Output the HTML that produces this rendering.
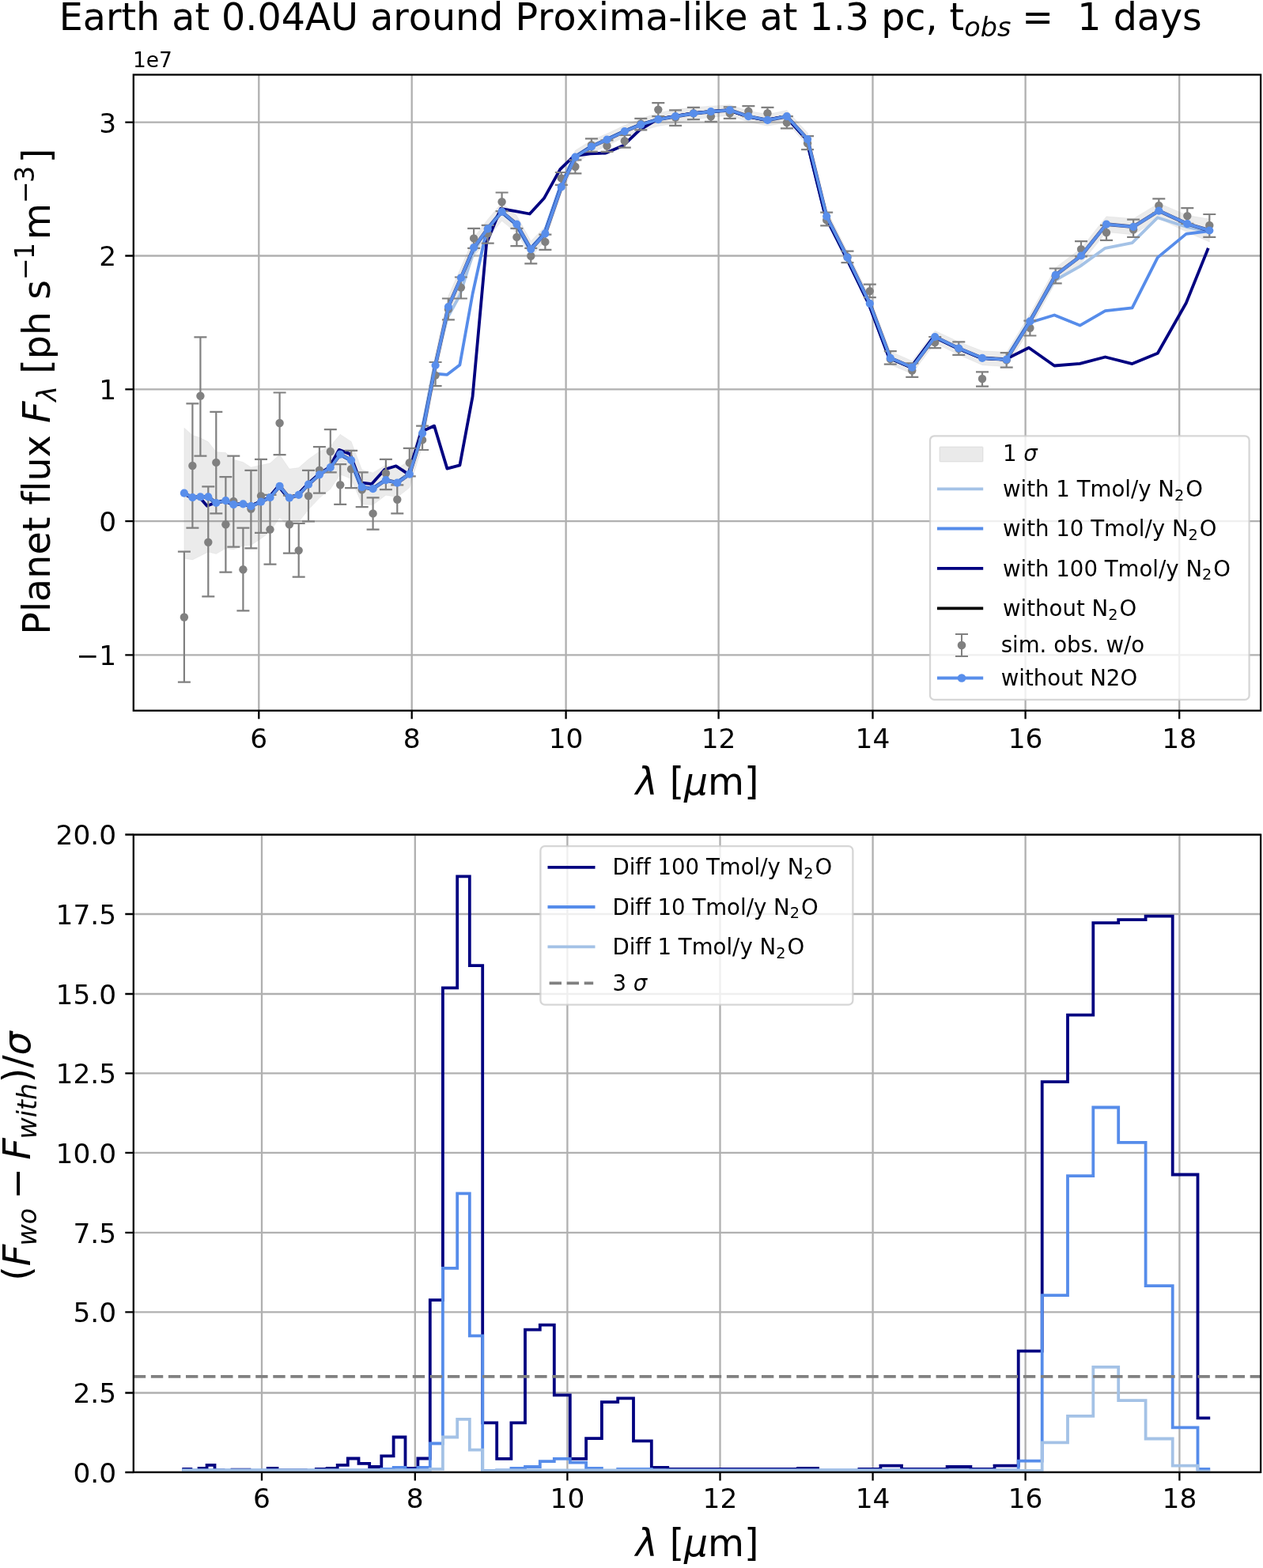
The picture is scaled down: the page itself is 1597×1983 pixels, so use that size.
<!DOCTYPE html>
<html lang="en"><head><meta charset="utf-8"><title>Earth at 0.04AU around Proxima-like</title>
<style>html,body{margin:0;padding:0;background:#fff}svg{display:block}text{font-family:"DejaVu Sans","Liberation Sans",sans-serif;fill:#000;font-variant-ligatures:none;font-kerning:none}.i{font-style:italic}</style></head><body>
<svg width="1597" height="1983" viewBox="0 0 1597 1983" role="img" aria-label="Planet flux and detection significance plots">
<rect width="1597" height="1983" fill="#fff"/>
<clipPath id="c1"><rect x="168.8" y="94.5" width="1425.3" height="804.2"/></clipPath>
<path d="M327.3 94.5V898.7M520.7 94.5V898.7M715.6 94.5V898.7M908.6 94.5V898.7M1103.5 94.5V898.7M1296.6 94.5V898.7M1491.2 94.5V898.7M168.8 154.6H1594.1M168.8 323.5H1594.1M168.8 492.4H1594.1M168.8 659.2H1594.1M168.8 828.3H1594.1" stroke="#b0b0b0" stroke-width="2.3" fill="none"/>
<g clip-path="url(#c1)">
<polygon points="232.9,541.2 243.4,550.4 253.4,553.8 263.3,558.8 273.3,571.4 285.4,572.6 295.3,581.2 307.4,584.5 317.4,590.9 330.0,588.2 341.5,585.8 353.6,575.0 365.9,593.1 377.7,591.6 390.0,580.8 403.9,570.9 417.8,563.9 430.2,549.3 444.1,558.4 457.7,594.2 471.6,597.9 487.9,588.1 502.3,592.4 517.8,582.5 534.1,532.2 550.6,447.3 566.9,374.2 582.9,338.1 599.1,300.5 616.7,277.6 634.6,256.3 653.4,272.6 671.3,305.0 689.4,286.2 709.8,227.9 727.4,190.3 747.9,177.4 767.5,169.0 789.8,158.6 810.3,150.0 832.3,142.7 854.1,138.3 876.9,135.7 898.9,134.2 922.8,132.5 946.4,140.2 970.5,144.6 994.9,139.4 1021.1,167.8 1045.2,265.5 1071.5,317.8 1099.8,375.8 1125.8,444.4 1153.3,456.4 1182.2,418.2 1212.3,432.3 1242.0,443.8 1272.7,445.4 1302.4,397.0 1334.7,338.4 1367.0,314.0 1399.0,273.7 1433.1,276.6 1465.3,256.9 1501.3,272.3 1529.3,277.0 1529.3,305.9 1501.3,293.8 1465.3,276.3 1433.1,296.9 1399.0,293.5 1367.0,333.0 1334.7,357.3 1302.4,415.7 1272.7,463.9 1242.0,461.7 1212.3,448.7 1182.2,433.8 1153.3,472.8 1125.8,461.2 1099.8,391.8 1071.5,333.3 1045.2,281.8 1021.1,184.3 994.9,155.0 970.5,159.3 946.4,154.2 922.8,146.2 898.9,148.2 876.9,151.4 854.1,156.1 832.3,159.6 810.3,165.4 789.8,173.6 767.5,184.2 747.9,193.6 727.4,206.9 709.8,244.9 689.4,304.6 671.3,325.2 653.4,294.6 634.6,279.4 616.7,301.1 599.1,325.4 582.9,364.5 566.9,401.8 550.6,476.7 534.1,563.8 517.8,616.8 502.3,628.8 487.9,626.2 471.6,638.5 457.7,637.9 444.1,605.6 430.2,600.0 417.8,618.4 403.9,629.8 390.0,644.6 377.7,659.9 365.9,666.3 353.6,654.6 341.5,672.6 330.0,681.2 317.4,689.5 307.4,690.2 295.3,695.0 285.4,693.6 273.3,700.6 263.3,698.0 253.4,703.0 243.4,707.9 232.9,706.2" fill="#808080" fill-opacity="0.155" stroke="#808080" stroke-opacity="0.08" stroke-width="1"/>
<polyline points="231.4,623.7 241.9,629.2 251.9,628.4 261.8,628.4 271.8,636.0 283.9,633.1 293.8,638.1 305.9,637.3 315.9,640.2 328.5,634.7 340.0,629.2 352.1,614.8 364.4,629.7 376.2,625.8 388.5,612.7 402.4,600.3 416.3,591.1 428.7,574.6 442.6,582.0 456.2,616.1 470.1,618.2 486.4,607.1 500.8,610.6 516.3,599.7 532.6,548.0 549.1,463.5 565.4,402.7 581.4,373.7 597.6,321.7 615.2,289.4 633.1,267.9 651.9,283.6 669.8,315.1 687.9,295.4 708.3,236.4 725.9,198.6 746.4,185.5 766.0,176.6 788.3,166.1 808.8,157.7 830.8,151.1 852.6,147.2 875.4,143.5 897.4,141.2 921.3,139.3 944.9,147.2 969.0,151.9 993.4,147.2 1019.6,176.1 1043.7,273.6 1070.0,325.6 1098.3,383.8 1124.3,452.8 1151.8,464.6 1180.7,426.0 1210.8,440.5 1240.5,452.8 1271.2,454.6 1300.9,406.4 1333.2,355.0 1365.5,336.9 1397.5,313.8 1431.6,307.2 1463.8,275.2 1499.8,286.8 1527.8,292.8" fill="none" stroke="#a4c2e6" stroke-width="3.8" stroke-linejoin="round"/>
<polyline points="231.4,623.7 241.9,629.2 251.9,628.4 261.8,628.4 271.8,636.0 283.9,633.1 293.8,638.1 305.9,637.3 315.9,640.2 328.5,634.7 340.0,629.2 352.1,614.8 364.4,629.7 376.2,625.8 388.5,612.7 402.4,600.3 416.3,591.1 428.7,574.6 442.6,582.0 456.2,616.1 470.1,618.2 486.4,607.1 500.8,610.6 516.3,599.7 532.6,548.0 549.1,472.5 565.4,473.8 581.4,461.4 597.6,371.5 615.2,291.5 633.1,267.9 651.9,283.6 669.8,315.1 687.9,295.4 708.3,236.4 725.9,198.6 746.4,185.5 766.0,176.6 788.3,166.1 808.8,157.7 830.8,151.1 852.6,147.2 875.4,143.5 897.4,141.2 921.3,139.3 944.9,147.2 969.0,151.9 993.4,147.2 1019.6,176.1 1043.7,273.6 1070.0,325.6 1098.3,383.8 1124.3,452.8 1151.8,464.6 1180.7,426.0 1210.8,440.5 1240.5,452.8 1271.2,454.6 1300.9,408.2 1333.2,398.5 1365.5,411.6 1397.5,393.2 1431.6,389.3 1463.8,325.6 1499.8,295.9 1527.8,292.3" fill="none" stroke="#568cea" stroke-width="3.8" stroke-linejoin="round"/>
<polyline points="231.4,623.7 241.9,629.2 251.9,628.4 261.8,639.7 271.8,636.0 283.9,633.1 293.8,638.1 305.9,637.3 315.9,640.2 328.5,634.7 340.0,629.2 352.1,614.8 364.4,629.7 376.2,625.8 388.5,612.7 402.4,600.3 416.3,591.1 428.7,568.9 442.6,574.1 456.2,610.3 470.1,612.1 486.4,593.8 500.8,589.3 516.3,599.7 532.6,545.9 549.1,538.6 565.4,592.6 581.4,588.4 597.6,501.3 615.2,307.2 633.1,263.9 651.9,267.1 669.8,270.5 687.9,250.8 708.3,214.1 725.9,197.0 746.4,194.4 766.0,193.6 788.3,183.9 808.8,164.3 830.8,151.1 852.6,147.2 875.4,143.5 897.4,141.2 921.3,139.3 944.9,147.2 969.0,151.9 993.4,147.2 1019.6,176.1 1043.7,273.6 1070.0,325.6 1098.3,383.8 1124.3,452.8 1151.8,464.6 1180.7,426.0 1210.8,440.5 1240.5,452.8 1271.2,454.6 1300.9,439.7 1333.2,462.5 1365.5,459.9 1397.5,451.5 1431.6,460.1 1463.8,446.8 1499.8,383.3 1527.8,313.8" fill="none" stroke="#000080" stroke-width="3.8" stroke-linejoin="round"/>
<polyline points="232.9,623.7 243.4,629.2 253.4,628.4 263.3,628.4 273.3,636.0 285.4,633.1 295.3,638.1 307.4,637.3 317.4,640.2 330.0,634.7 341.5,629.2 353.6,614.8 365.9,629.7 377.7,625.8 390.0,612.7 403.9,600.3 417.8,591.1 430.2,574.6 444.1,582.0 457.7,616.1 471.6,618.2 487.9,607.1 502.3,610.6 517.8,599.7 534.1,548.0 550.6,462.0 566.9,388.0 582.9,351.3 599.1,313.0 616.7,289.4 634.6,267.9 653.4,283.6 671.3,315.1 689.4,295.4 709.8,236.4 727.4,198.6 747.9,185.5 767.5,176.6 789.8,166.1 810.3,157.7 832.3,151.1 854.1,147.2 876.9,143.5 898.9,141.2 922.8,139.3 946.4,147.2 970.5,151.9 994.9,147.2 1021.1,176.1 1045.2,273.6 1071.5,325.6 1099.8,383.8 1125.8,452.8 1153.3,464.6 1182.2,426.0 1212.3,440.5 1242.0,452.8 1272.7,454.6 1302.4,406.4 1334.7,347.9 1367.0,323.5 1399.0,283.6 1433.1,286.8 1465.3,266.6 1501.3,283.1 1529.3,291.5" fill="none" stroke="#00003a" stroke-opacity="0.7" stroke-width="4.6" stroke-linejoin="round"/>
<path d="M232.9 697.6V862.6M224.9 697.6h16M224.9 862.6h16M243.4 510.4V667.7M235.4 510.4h16M235.4 667.7h16M253.4 426.4V576.7M245.4 426.4h16M245.4 576.7h16M263.3 615.3V754.3M255.3 615.3h16M255.3 754.3h16M273.3 520.9V649.4M265.3 520.9h16M265.3 649.4h16M285.4 603.2V723.6M277.4 603.2h16M277.4 723.6h16M295.3 576.7V691.6M287.3 576.7h16M287.3 691.6h16M307.4 667.7V772.4M299.4 667.7h16M299.4 772.4h16M317.4 594.8V693.4M309.4 594.8h16M309.4 693.4h16M330.0 580.9V673.8M322.0 580.9h16M322.0 673.8h16M341.5 625.8V713.6M333.5 625.8h16M333.5 713.6h16M353.6 496.5V575.1M345.6 496.5h16M345.6 575.1h16M365.9 626.6V699.7M357.9 626.6h16M357.9 699.7h16M377.7 662.0V729.6M369.7 662.0h16M369.7 729.6h16M390.0 594.8V659.3M382.0 594.8h16M382.0 659.3h16M403.9 565.2V623.7M395.9 565.2h16M395.9 623.7h16M417.8 543.1V597.4M409.8 543.1h16M409.8 597.4h16M430.2 587.2V637.8M422.2 587.2h16M422.2 637.8h16M444.1 569.9V617.1M436.1 569.9h16M436.1 617.1h16M457.7 597.4V641.2M449.7 597.4h16M449.7 641.2h16M471.6 629.4V669.6M463.6 629.4h16M463.6 669.6h16M487.9 580.9V619.2M479.9 580.9h16M479.9 619.2h16M502.3 613.4V649.4M494.3 613.4h16M494.3 649.4h16M517.8 566.9V602.3M509.8 566.9h16M509.8 602.3h16M534.1 538.6V569.0M526.1 538.6h16M526.1 569.0h16M550.6 458.0V488.2M542.6 458.0h16M542.6 488.2h16M566.9 377.5V404.3M558.9 377.5h16M558.9 404.3h16M582.9 350.5V377.5M574.9 350.5h16M574.9 377.5h16M599.1 288.9V313.8M591.1 288.9h16M591.1 313.8h16M616.7 284.9V307.7M608.7 284.9h16M608.7 307.7h16M634.6 243.5V267.1M626.6 243.5h16M626.6 267.1h16M653.4 288.9V311.1M645.4 288.9h16M645.4 311.1h16M671.3 313.8V333.4M663.3 313.8h16M663.3 333.4h16M689.4 296.7V315.9M681.4 296.7h16M681.4 315.9h16M709.8 218.0V233.8M701.8 218.0h16M701.8 233.8h16M727.4 202.3V219.3M719.4 202.3h16M719.4 219.3h16M747.9 175.3V191.8M739.9 175.3h16M739.9 191.8h16M767.5 177.4V191.8M759.5 177.4h16M759.5 191.8h16M789.8 170.8V186.6M781.8 170.8h16M781.8 186.6h16M810.3 149.8V164.3M802.3 149.8h16M802.3 164.3h16M832.3 130.2V147.2M824.3 130.2h16M824.3 147.2h16M854.1 139.3V158.8M846.1 139.3h16M846.1 158.8h16M876.9 135.9V151.1M868.9 135.9h16M868.9 151.1h16M898.9 140.7V153.8M890.9 140.7h16M890.9 153.8h16M922.8 135.4V149.8M914.8 135.4h16M914.8 149.8h16M946.4 134.1V147.2M938.4 134.1h16M938.4 147.2h16M970.5 135.9V151.1M962.5 135.9h16M962.5 151.1h16M994.9 147.2V162.4M986.9 147.2h16M986.9 162.4h16M1021.1 172.1V189.2M1013.1 172.1h16M1013.1 189.2h16M1045.2 268.7V285.4M1037.2 268.7h16M1037.2 285.4h16M1071.5 317.7V332.1M1063.5 317.7h16M1063.5 332.1h16M1099.8 359.7V376.2M1091.8 359.7h16M1091.8 376.2h16M1125.8 444.1V460.7M1117.8 444.1h16M1117.8 460.7h16M1153.3 459.3V476.9M1145.3 459.3h16M1145.3 476.9h16M1182.2 426.0V440.2M1174.2 426.0h16M1174.2 440.2h16M1212.3 432.3V448.9M1204.3 432.3h16M1204.3 448.9h16M1242.0 470.4V488.7M1234.0 470.4h16M1234.0 488.7h16M1272.7 446.2V464.6M1264.7 446.2h16M1264.7 464.6h16M1302.4 405.6V424.5M1294.4 405.6h16M1294.4 424.5h16M1334.7 339.5V358.4M1326.7 339.5h16M1326.7 358.4h16M1367.0 305.1V324.3M1359.0 305.1h16M1359.0 324.3h16M1399.0 284.9V303.8M1391.0 284.9h16M1391.0 303.8h16M1433.1 277.6V299.9M1425.1 277.6h16M1425.1 299.9h16M1465.3 251.3V269.2M1457.3 251.3h16M1457.3 269.2h16M1501.3 263.1V282.8M1493.3 263.1h16M1493.3 282.8h16M1529.3 271.0V299.9M1521.3 271.0h16M1521.3 299.9h16" stroke="#808080" stroke-width="2.2" fill="none"/>
<g fill="#808080"><circle cx="232.9" cy="780.5" r="5.2"/><circle cx="243.4" cy="589.0" r="5.2"/><circle cx="253.4" cy="500.7" r="5.2"/><circle cx="263.3" cy="685.8" r="5.2"/><circle cx="273.3" cy="584.9" r="5.2"/><circle cx="285.4" cy="663.3" r="5.2"/><circle cx="295.3" cy="633.9" r="5.2"/><circle cx="307.4" cy="720.2" r="5.2"/><circle cx="317.4" cy="643.6" r="5.2"/><circle cx="330.0" cy="627.1" r="5.2"/><circle cx="341.5" cy="669.6" r="5.2"/><circle cx="353.6" cy="535.0" r="5.2"/><circle cx="365.9" cy="663.3" r="5.2"/><circle cx="377.7" cy="696.1" r="5.2"/><circle cx="390.0" cy="627.1" r="5.2"/><circle cx="403.9" cy="594.6" r="5.2"/><circle cx="417.8" cy="571.0" r="5.2"/><circle cx="430.2" cy="613.2" r="5.2"/><circle cx="444.1" cy="593.2" r="5.2"/><circle cx="457.7" cy="619.2" r="5.2"/><circle cx="471.6" cy="649.4" r="5.2"/><circle cx="487.9" cy="598.5" r="5.2"/><circle cx="502.3" cy="631.8" r="5.2"/><circle cx="517.8" cy="585.2" r="5.2"/><circle cx="534.1" cy="556.4" r="5.2"/><circle cx="550.6" cy="474.6" r="5.2"/><circle cx="566.9" cy="391.1" r="5.2"/><circle cx="582.9" cy="363.6" r="5.2"/><circle cx="599.1" cy="301.4" r="5.2"/><circle cx="616.7" cy="295.4" r="5.2"/><circle cx="634.6" cy="255.3" r="5.2"/><circle cx="653.4" cy="299.9" r="5.2"/><circle cx="671.3" cy="323.7" r="5.2"/><circle cx="689.4" cy="305.9" r="5.2"/><circle cx="709.8" cy="225.4" r="5.2"/><circle cx="727.4" cy="210.7" r="5.2"/><circle cx="747.9" cy="183.4" r="5.2"/><circle cx="767.5" cy="184.5" r="5.2"/><circle cx="789.8" cy="178.2" r="5.2"/><circle cx="810.3" cy="156.4" r="5.2"/><circle cx="832.3" cy="138.6" r="5.2"/><circle cx="854.1" cy="148.5" r="5.2"/><circle cx="876.9" cy="143.3" r="5.2"/><circle cx="898.9" cy="147.2" r="5.2"/><circle cx="922.8" cy="143.3" r="5.2"/><circle cx="946.4" cy="140.7" r="5.2"/><circle cx="970.5" cy="143.3" r="5.2"/><circle cx="994.9" cy="155.1" r="5.2"/><circle cx="1021.1" cy="181.3" r="5.2"/><circle cx="1045.2" cy="278.4" r="5.2"/><circle cx="1071.5" cy="325.0" r="5.2"/><circle cx="1099.8" cy="368.1" r="5.2"/><circle cx="1125.8" cy="454.1" r="5.2"/><circle cx="1153.3" cy="468.5" r="5.2"/><circle cx="1182.2" cy="433.1" r="5.2"/><circle cx="1212.3" cy="441.0" r="5.2"/><circle cx="1242.0" cy="479.0" r="5.2"/><circle cx="1272.7" cy="455.4" r="5.2"/><circle cx="1302.4" cy="414.8" r="5.2"/><circle cx="1334.7" cy="349.2" r="5.2"/><circle cx="1367.0" cy="315.1" r="5.2"/><circle cx="1399.0" cy="294.1" r="5.2"/><circle cx="1433.1" cy="290.2" r="5.2"/><circle cx="1465.3" cy="260.0" r="5.2"/><circle cx="1501.3" cy="273.1" r="5.2"/><circle cx="1529.3" cy="284.9" r="5.2"/></g>
<polyline points="232.9,623.7 243.4,629.2 253.4,628.4 263.3,628.4 273.3,636.0 285.4,633.1 295.3,638.1 307.4,637.3 317.4,640.2 330.0,634.7 341.5,629.2 353.6,614.8 365.9,629.7 377.7,625.8 390.0,612.7 403.9,600.3 417.8,591.1 430.2,574.6 444.1,582.0 457.7,616.1 471.6,618.2 487.9,607.1 502.3,610.6 517.8,599.7 534.1,548.0 550.6,462.0 566.9,388.0 582.9,351.3 599.1,313.0 616.7,289.4 634.6,267.9 653.4,283.6 671.3,315.1 689.4,295.4 709.8,236.4 727.4,198.6 747.9,185.5 767.5,176.6 789.8,166.1 810.3,157.7 832.3,151.1 854.1,147.2 876.9,143.5 898.9,141.2 922.8,139.3 946.4,147.2 970.5,151.9 994.9,147.2 1021.1,176.1 1045.2,273.6 1071.5,325.6 1099.8,383.8 1125.8,452.8 1153.3,464.6 1182.2,426.0 1212.3,440.5 1242.0,452.8 1272.7,454.6 1302.4,406.4 1334.7,347.9 1367.0,323.5 1399.0,283.6 1433.1,286.8 1465.3,266.6 1501.3,283.1 1529.3,291.5" fill="none" stroke="#588eeb" stroke-width="3.8" stroke-linejoin="round"/>
<g fill="#588eeb"><circle cx="232.9" cy="623.7" r="5.1"/><circle cx="243.4" cy="629.2" r="5.1"/><circle cx="253.4" cy="628.4" r="5.1"/><circle cx="263.3" cy="628.4" r="5.1"/><circle cx="273.3" cy="636.0" r="5.1"/><circle cx="285.4" cy="633.1" r="5.1"/><circle cx="295.3" cy="638.1" r="5.1"/><circle cx="307.4" cy="637.3" r="5.1"/><circle cx="317.4" cy="640.2" r="5.1"/><circle cx="330.0" cy="634.7" r="5.1"/><circle cx="341.5" cy="629.2" r="5.1"/><circle cx="353.6" cy="614.8" r="5.1"/><circle cx="365.9" cy="629.7" r="5.1"/><circle cx="377.7" cy="625.8" r="5.1"/><circle cx="390.0" cy="612.7" r="5.1"/><circle cx="403.9" cy="600.3" r="5.1"/><circle cx="417.8" cy="591.1" r="5.1"/><circle cx="430.2" cy="574.6" r="5.1"/><circle cx="444.1" cy="582.0" r="5.1"/><circle cx="457.7" cy="616.1" r="5.1"/><circle cx="471.6" cy="618.2" r="5.1"/><circle cx="487.9" cy="607.1" r="5.1"/><circle cx="502.3" cy="610.6" r="5.1"/><circle cx="517.8" cy="599.7" r="5.1"/><circle cx="534.1" cy="548.0" r="5.1"/><circle cx="550.6" cy="462.0" r="5.1"/><circle cx="566.9" cy="388.0" r="5.1"/><circle cx="582.9" cy="351.3" r="5.1"/><circle cx="599.1" cy="313.0" r="5.1"/><circle cx="616.7" cy="289.4" r="5.1"/><circle cx="634.6" cy="267.9" r="5.1"/><circle cx="653.4" cy="283.6" r="5.1"/><circle cx="671.3" cy="315.1" r="5.1"/><circle cx="689.4" cy="295.4" r="5.1"/><circle cx="709.8" cy="236.4" r="5.1"/><circle cx="727.4" cy="198.6" r="5.1"/><circle cx="747.9" cy="185.5" r="5.1"/><circle cx="767.5" cy="176.6" r="5.1"/><circle cx="789.8" cy="166.1" r="5.1"/><circle cx="810.3" cy="157.7" r="5.1"/><circle cx="832.3" cy="151.1" r="5.1"/><circle cx="854.1" cy="147.2" r="5.1"/><circle cx="876.9" cy="143.5" r="5.1"/><circle cx="898.9" cy="141.2" r="5.1"/><circle cx="922.8" cy="139.3" r="5.1"/><circle cx="946.4" cy="147.2" r="5.1"/><circle cx="970.5" cy="151.9" r="5.1"/><circle cx="994.9" cy="147.2" r="5.1"/><circle cx="1021.1" cy="176.1" r="5.1"/><circle cx="1045.2" cy="273.6" r="5.1"/><circle cx="1071.5" cy="325.6" r="5.1"/><circle cx="1099.8" cy="383.8" r="5.1"/><circle cx="1125.8" cy="452.8" r="5.1"/><circle cx="1153.3" cy="464.6" r="5.1"/><circle cx="1182.2" cy="426.0" r="5.1"/><circle cx="1212.3" cy="440.5" r="5.1"/><circle cx="1242.0" cy="452.8" r="5.1"/><circle cx="1272.7" cy="454.6" r="5.1"/><circle cx="1302.4" cy="406.4" r="5.1"/><circle cx="1334.7" cy="347.9" r="5.1"/><circle cx="1367.0" cy="323.5" r="5.1"/><circle cx="1399.0" cy="283.6" r="5.1"/><circle cx="1433.1" cy="286.8" r="5.1"/><circle cx="1465.3" cy="266.6" r="5.1"/><circle cx="1501.3" cy="283.1" r="5.1"/><circle cx="1529.3" cy="291.5" r="5.1"/></g>
</g>
<path d="M327.3 898.7v10.5M520.7 898.7v10.5M715.6 898.7v10.5M908.6 898.7v10.5M1103.5 898.7v10.5M1296.6 898.7v10.5M1491.2 898.7v10.5M168.8 154.6h-10.5M168.8 323.5h-10.5M168.8 492.4h-10.5M168.8 659.2h-10.5M168.8 828.3h-10.5" stroke="#000" stroke-width="2.3" fill="none"/>
<rect x="168.8" y="94.5" width="1425.3" height="804.2" fill="none" stroke="#000" stroke-width="2.3"/>
<text x="327.3" y="946.3" font-size="34.4" text-anchor="middle">6</text>
<text x="520.7" y="946.3" font-size="34.4" text-anchor="middle">8</text>
<text x="715.6" y="946.3" font-size="34.4" text-anchor="middle">10</text>
<text x="908.6" y="946.3" font-size="34.4" text-anchor="middle">12</text>
<text x="1103.5" y="946.3" font-size="34.4" text-anchor="middle">14</text>
<text x="1296.6" y="946.3" font-size="34.4" text-anchor="middle">16</text>
<text x="1491.2" y="946.3" font-size="34.4" text-anchor="middle">18</text>
<text x="147.1" y="167.5" font-size="34.4" text-anchor="end">3</text>
<text x="147.1" y="336.4" font-size="34.4" text-anchor="end">2</text>
<text x="147.1" y="505.3" font-size="34.4" text-anchor="end">1</text>
<text x="147.1" y="672.1" font-size="34.4" text-anchor="end">0</text>
<text x="147.1" y="841.2" font-size="34.4" text-anchor="end">−1</text>
<text x="168" y="85" font-size="26.4">1e7</text>
<text x="797.3" y="37.8" font-size="47.5" text-anchor="middle" xml:space="preserve">Earth at 0.04AU around Proxima-like at 1.3 pc, t<tspan class="i" font-size="33.5" dy="8">obs</tspan><tspan dy="-8" dx="-1.2"> =  1 days</tspan></text>
<text x="881.6" y="1004.8" font-size="47.2" text-anchor="middle"><tspan class="i">λ</tspan> [<tspan class="i">μ</tspan>m]</text>
<text transform="translate(63.3,802.8) rotate(-90)" font-size="47.6">Planet flux <tspan class="i">F</tspan><tspan class="i" font-size="33.3" dy="8">λ</tspan><tspan dy="-8"> [ph s</tspan><tspan font-size="33.3" dy="-20.5">−</tspan><tspan font-size="33.3" dx="-2">1</tspan><tspan dy="20.5" dx="3.5">m</tspan><tspan font-size="33.3" dy="-20.5">−</tspan><tspan font-size="33.3" dx="-2">3</tspan><tspan dy="20.5" dx="3.5">]</tspan></text>
<rect x="1176" y="551.3" width="403.6" height="333.6" rx="5.5" fill="#fff" fill-opacity="0.8" stroke="#ccc" stroke-opacity="0.8" stroke-width="2.3"/>
<rect x="1188.0" y="564.9" width="55" height="19" rx="1.5" fill="#808080" fill-opacity="0.17" stroke="#808080" stroke-opacity="0.12" stroke-width="1.5"/>
<path d="M1185.0 618.3H1243.2" stroke="#a4c2e6" stroke-width="3.8"/>
<path d="M1185.0 668.5H1243.2" stroke="#568cea" stroke-width="3.8"/>
<path d="M1185.0 718.8H1243.2" stroke="#000080" stroke-width="3.8"/>
<path d="M1185.0 769.3H1243.2" stroke="#000" stroke-width="3.8"/>
<path d="M1216.0 802.0V830.0M1208.0 802.0h16M1208.0 830.0h16" stroke="#808080" stroke-width="2" fill="none"/>
<circle cx="1216.0" cy="816.0" r="5.3" fill="#808080"/>
<path d="M1185.0 857.5H1243.2" stroke="#588eeb" stroke-width="3.8"/>
<circle cx="1216.0" cy="857.5" r="5.3" fill="#588eeb"/>
<text x="1268.0" y="583.0" font-size="27.6">1 <tspan class="i">σ</tspan></text>
<text x="1268.0" y="628.0" font-size="27.6">with 1 Tmol/y N<tspan font-size="19.3" dy="4.7">2</tspan><tspan dy="-4.7" dx="2">O</tspan></text>
<text x="1268.0" y="678.2" font-size="27.6">with 10 Tmol/y N<tspan font-size="19.3" dy="4.7">2</tspan><tspan dy="-4.7" dx="2">O</tspan></text>
<text x="1268.0" y="728.5" font-size="27.6">with 100 Tmol/y N<tspan font-size="19.3" dy="4.7">2</tspan><tspan dy="-4.7" dx="2">O</tspan></text>
<text x="1268.0" y="779.0" font-size="27.6">without N<tspan font-size="19.3" dy="4.7">2</tspan><tspan dy="-4.7" dx="2">O</tspan></text>
<text x="1265.7" y="825.2" font-size="27.6">sim. obs. w/o</text>
<text x="1265.7" y="867.2" font-size="27.6">without N2O</text>
<clipPath id="c2"><rect x="168.8" y="1055.6" width="1425.3" height="806.3"/></clipPath>
<path d="M331.0 1055.6V1861.9M524.8 1055.6V1861.9M717.4 1055.6V1861.9M910.5 1055.6V1861.9M1103.6 1055.6V1861.9M1296.6 1055.6V1861.9M1491.4 1055.6V1861.9M168.8 1055.5H1594.1M168.8 1156.0H1594.1M168.8 1257.0H1594.1M168.8 1357.4H1594.1M168.8 1457.9H1594.1M168.8 1558.8H1594.1M168.8 1659.4H1594.1M168.8 1761.5H1594.1M168.8 1862.0H1594.1" stroke="#b0b0b0" stroke-width="2.3" fill="none"/>
<g clip-path="url(#c2)" fill="none" stroke-width="3.8" stroke-linejoin="miter">
<path d="M230.3 1857.8 L241.4 1857.8 L241.4 1859.8 L251.6 1859.8 L251.6 1857.0 L261.6 1857.0 L261.6 1852.9 L271.5 1852.9 L271.5 1859.4 L282.5 1859.4 L282.5 1860.6 L293.5 1860.6 L293.5 1858.6 L304.5 1858.6 L304.5 1858.6 L315.4 1858.6 L315.4 1860.6 L326.7 1860.6 L326.7 1859.8 L338.7 1859.8 L338.7 1857.0 L350.5 1857.0 L350.5 1859.4 L362.6 1859.4 L362.6 1859.4 L374.7 1859.4 L374.7 1859.4 L386.7 1859.4 L386.7 1859.8 L399.8 1859.8 L399.8 1857.8 L413.6 1857.8 L413.6 1857.0 L426.7 1857.0 L426.7 1852.9 L439.8 1852.9 L439.8 1844.5 L453.5 1844.5 L453.5 1850.9 L467.2 1850.9 L467.2 1855.0 L482.3 1855.0 L482.3 1841.3 L497.6 1841.3 L497.6 1817.5 L512.5 1817.5 L512.5 1857.0 L528.4 1857.0 L528.4 1844.5 L543.8 1844.5 L543.8 1644.2 L559.9 1644.2 L559.9 1249.4 L578.2 1249.4 L578.2 1108.4 L593.8 1108.4 L593.8 1221.2 L610.2 1221.2 L610.2 1799.4 L628.2 1799.4 L628.2 1844.9 L646.4 1844.9 L646.4 1799.4 L664.0 1799.4 L664.0 1681.7 L682.8 1681.7 L682.8 1675.7 L700.8 1675.7 L700.8 1764.3 L720.8 1764.3 L720.8 1844.9 L741.1 1844.9 L741.1 1819.1 L760.9 1819.1 L760.9 1773.2 L781.2 1773.2 L781.2 1768.3 L801.0 1768.3 L801.0 1822.3 L823.8 1822.3 L823.8 1855.8 L844.3 1855.8 L844.3 1857.8 L866.9 1857.8 L866.9 1857.8 L889.2 1857.8 L889.2 1857.8 L912.1 1857.8 L912.1 1857.8 L935.7 1857.8 L935.7 1857.8 L959.5 1857.8 L959.5 1857.8 L983.7 1857.8 L983.7 1857.8 L1009.0 1857.8 L1009.0 1857.0 L1034.1 1857.0 L1034.1 1860.6 L1059.2 1860.6 L1059.2 1860.6 L1086.4 1860.6 L1086.4 1857.8 L1113.4 1857.8 L1113.4 1853.7 L1140.1 1853.7 L1140.1 1857.8 L1168.2 1857.8 L1168.2 1857.8 L1197.6 1857.8 L1197.6 1855.0 L1227.4 1855.0 L1227.4 1857.8 L1257.5 1857.8 L1257.5 1853.7 L1287.7 1853.7 L1287.7 1708.7 L1317.7 1708.7 L1317.7 1368.2 L1350.0 1368.2 L1350.0 1283.6 L1382.3 1283.6 L1382.3 1167.2 L1414.2 1167.2 L1414.2 1163.2 L1448.6 1163.2 L1448.6 1158.7 L1482.7 1158.7 L1482.7 1485.5 L1514.5 1485.5 L1514.5 1793.3 L1530.2 1793.3" stroke="#000080"/>
<path d="M230.3 1859.4 L241.4 1859.4 L241.4 1859.4 L251.6 1859.4 L251.6 1859.4 L261.6 1859.4 L261.6 1859.4 L271.5 1859.4 L271.5 1859.4 L282.5 1859.4 L282.5 1859.4 L293.5 1859.4 L293.5 1859.4 L304.5 1859.4 L304.5 1859.4 L315.4 1859.4 L315.4 1859.4 L326.7 1859.4 L326.7 1859.4 L338.7 1859.4 L338.7 1859.4 L350.5 1859.4 L350.5 1859.4 L362.6 1859.4 L362.6 1859.4 L374.7 1859.4 L374.7 1859.4 L386.7 1859.4 L386.7 1859.4 L399.8 1859.4 L399.8 1859.4 L413.6 1859.4 L413.6 1859.4 L426.7 1859.4 L426.7 1859.4 L439.8 1859.4 L439.8 1859.4 L453.5 1859.4 L453.5 1859.4 L467.2 1859.4 L467.2 1859.4 L482.3 1859.4 L482.3 1857.8 L497.6 1857.8 L497.6 1855.8 L512.5 1855.8 L512.5 1858.6 L528.4 1858.6 L528.4 1855.8 L543.8 1855.8 L543.8 1825.5 L559.9 1825.5 L559.9 1603.9 L578.2 1603.9 L578.2 1509.3 L593.8 1509.3 L593.8 1689.4 L610.2 1689.4 L610.2 1859.8 L628.2 1859.8 L628.2 1859.4 L646.4 1859.4 L646.4 1857.0 L664.0 1857.0 L664.0 1855.0 L682.8 1855.0 L682.8 1848.1 L700.8 1848.1 L700.8 1844.9 L720.8 1844.9 L720.8 1849.7 L741.1 1849.7 L741.1 1857.0 L760.9 1857.0 L760.9 1859.8 L781.2 1859.8 L781.2 1857.8 L801.0 1857.8 L801.0 1857.8 L823.8 1857.8 L823.8 1859.4 L844.3 1859.4 L844.3 1859.4 L866.9 1859.4 L866.9 1859.4 L889.2 1859.4 L889.2 1859.4 L912.1 1859.4 L912.1 1859.4 L935.7 1859.4 L935.7 1859.4 L959.5 1859.4 L959.5 1859.4 L983.7 1859.4 L983.7 1859.4 L1009.0 1859.4 L1009.0 1859.4 L1034.1 1859.4 L1034.1 1859.4 L1059.2 1859.4 L1059.2 1859.4 L1086.4 1859.4 L1086.4 1859.4 L1113.4 1859.4 L1113.4 1859.4 L1140.1 1859.4 L1140.1 1859.4 L1168.2 1859.4 L1168.2 1859.4 L1197.6 1859.4 L1197.6 1859.4 L1227.4 1859.4 L1227.4 1859.4 L1257.5 1859.4 L1257.5 1859.4 L1287.7 1859.4 L1287.7 1847.7 L1317.7 1847.7 L1317.7 1638.2 L1350.0 1638.2 L1350.0 1487.1 L1382.3 1487.1 L1382.3 1400.5 L1414.2 1400.5 L1414.2 1444.8 L1448.6 1444.8 L1448.6 1626.1 L1482.7 1626.1 L1482.7 1805.4 L1514.5 1805.4 L1514.5 1857.8 L1530.2 1857.8" stroke="#568cea"/>
<path d="M230.3 1859.4 L241.4 1859.4 L241.4 1859.4 L251.6 1859.4 L251.6 1859.4 L261.6 1859.4 L261.6 1859.4 L271.5 1859.4 L271.5 1859.4 L282.5 1859.4 L282.5 1859.4 L293.5 1859.4 L293.5 1859.4 L304.5 1859.4 L304.5 1859.4 L315.4 1859.4 L315.4 1859.4 L326.7 1859.4 L326.7 1859.4 L338.7 1859.4 L338.7 1859.4 L350.5 1859.4 L350.5 1859.4 L362.6 1859.4 L362.6 1859.4 L374.7 1859.4 L374.7 1859.4 L386.7 1859.4 L386.7 1859.4 L399.8 1859.4 L399.8 1859.4 L413.6 1859.4 L413.6 1859.4 L426.7 1859.4 L426.7 1859.4 L439.8 1859.4 L439.8 1859.4 L453.5 1859.4 L453.5 1859.4 L467.2 1859.4 L467.2 1859.4 L482.3 1859.4 L482.3 1859.4 L497.6 1859.4 L497.6 1859.4 L512.5 1859.4 L512.5 1859.4 L528.4 1859.4 L528.4 1859.4 L543.8 1859.4 L543.8 1857.8 L559.9 1857.8 L559.9 1817.5 L578.2 1817.5 L578.2 1794.9 L593.8 1794.9 L593.8 1833.6 L610.2 1833.6 L610.2 1860.2 L628.2 1860.2 L628.2 1859.4 L646.4 1859.4 L646.4 1859.4 L664.0 1859.4 L664.0 1859.4 L682.8 1859.4 L682.8 1859.4 L700.8 1859.4 L700.8 1859.4 L720.8 1859.4 L720.8 1859.4 L741.1 1859.4 L741.1 1859.4 L760.9 1859.4 L760.9 1859.4 L781.2 1859.4 L781.2 1859.4 L801.0 1859.4 L801.0 1859.4 L823.8 1859.4 L823.8 1859.4 L844.3 1859.4 L844.3 1859.4 L866.9 1859.4 L866.9 1859.4 L889.2 1859.4 L889.2 1859.4 L912.1 1859.4 L912.1 1859.4 L935.7 1859.4 L935.7 1859.4 L959.5 1859.4 L959.5 1859.4 L983.7 1859.4 L983.7 1859.4 L1009.0 1859.4 L1009.0 1859.4 L1034.1 1859.4 L1034.1 1859.4 L1059.2 1859.4 L1059.2 1859.4 L1086.4 1859.4 L1086.4 1859.4 L1113.4 1859.4 L1113.4 1859.4 L1140.1 1859.4 L1140.1 1859.4 L1168.2 1859.4 L1168.2 1859.4 L1197.6 1859.4 L1197.6 1859.4 L1227.4 1859.4 L1227.4 1859.4 L1257.5 1859.4 L1257.5 1859.4 L1287.7 1859.4 L1287.7 1859.8 L1317.7 1859.8 L1317.7 1824.3 L1350.0 1824.3 L1350.0 1790.9 L1382.3 1790.9 L1382.3 1728.8 L1414.2 1728.8 L1414.2 1771.1 L1448.6 1771.1 L1448.6 1819.5 L1482.7 1819.5 L1482.7 1853.7 L1514.5 1853.7 L1514.5 1860.6 L1530.2 1860.6" stroke="#a4c2e6"/>
<path d="M168.8 1740.9H1594.1" stroke="#808080" stroke-dasharray="15.4 6.66"/>
</g>
<path d="M331.0 1861.9v10.5M524.8 1861.9v10.5M717.4 1861.9v10.5M910.5 1861.9v10.5M1103.6 1861.9v10.5M1296.6 1861.9v10.5M1491.4 1861.9v10.5M168.8 1055.5h-10.5M168.8 1156.0h-10.5M168.8 1257.0h-10.5M168.8 1357.4h-10.5M168.8 1457.9h-10.5M168.8 1558.8h-10.5M168.8 1659.4h-10.5M168.8 1761.5h-10.5M168.8 1862.0h-10.5" stroke="#000" stroke-width="2.3" fill="none"/>
<rect x="168.8" y="1055.6" width="1425.3" height="806.3" fill="none" stroke="#000" stroke-width="2.3"/>
<text x="331.0" y="1907.3" font-size="34.4" text-anchor="middle">6</text>
<text x="524.8" y="1907.3" font-size="34.4" text-anchor="middle">8</text>
<text x="717.4" y="1907.3" font-size="34.4" text-anchor="middle">10</text>
<text x="910.5" y="1907.3" font-size="34.4" text-anchor="middle">12</text>
<text x="1103.6" y="1907.3" font-size="34.4" text-anchor="middle">14</text>
<text x="1296.6" y="1907.3" font-size="34.4" text-anchor="middle">16</text>
<text x="1491.4" y="1907.3" font-size="34.4" text-anchor="middle">18</text>
<text x="147.1" y="1068.4" font-size="34.4" text-anchor="end">20.0</text>
<text x="147.1" y="1168.9" font-size="34.4" text-anchor="end">17.5</text>
<text x="147.1" y="1269.9" font-size="34.4" text-anchor="end">15.0</text>
<text x="147.1" y="1370.3" font-size="34.4" text-anchor="end">12.5</text>
<text x="147.1" y="1470.8" font-size="34.4" text-anchor="end">10.0</text>
<text x="147.1" y="1571.7" font-size="34.4" text-anchor="end">7.5</text>
<text x="147.1" y="1672.3" font-size="34.4" text-anchor="end">5.0</text>
<text x="147.1" y="1774.4" font-size="34.4" text-anchor="end">2.5</text>
<text x="147.1" y="1874.9" font-size="34.4" text-anchor="end">0.0</text>
<text x="881.6" y="1968.3" font-size="47.2" text-anchor="middle"><tspan class="i">λ</tspan> [<tspan class="i">μ</tspan>m]</text>
<text transform="translate(38.3,1619.8) rotate(-90)" font-size="47.6">(<tspan class="i">F</tspan><tspan class="i" font-size="33.3" dy="8" dx="-1.6">wo</tspan><tspan dy="-8" dx="11.2">−</tspan><tspan class="i" dx="10">F</tspan><tspan class="i" font-size="33.3" dy="8" dx="-1.2">with</tspan><tspan dy="-8" dx="0.7">)/</tspan><tspan class="i">σ</tspan></text>
<rect x="683.4" y="1070.2" width="395" height="200.4" rx="5.5" fill="#fff" fill-opacity="0.8" stroke="#ccc" stroke-opacity="0.8" stroke-width="2.3"/>
<path d="M692.5 1096.8H752.5" stroke="#000080" stroke-width="3.8"/>
<path d="M692.5 1147.0H752.5" stroke="#568cea" stroke-width="3.8"/>
<path d="M692.5 1197.4H752.5" stroke="#a4c2e6" stroke-width="3.8"/>
<path d="M694.6 1243.4H750.2" stroke="#808080" stroke-width="3.8" stroke-dasharray="15.4 6.66"/>
<text x="774.4" y="1106.3" font-size="27.6">Diff 100 Tmol/y N<tspan font-size="19.3" dy="4.7">2</tspan><tspan dy="-4.7" dx="2">O</tspan></text>
<text x="774.4" y="1156.5" font-size="27.6">Diff 10 Tmol/y N<tspan font-size="19.3" dy="4.7">2</tspan><tspan dy="-4.7" dx="2">O</tspan></text>
<text x="774.4" y="1206.9" font-size="27.6">Diff 1 Tmol/y N<tspan font-size="19.3" dy="4.7">2</tspan><tspan dy="-4.7" dx="2">O</tspan></text>
<text x="774.4" y="1252.9" font-size="27.6">3 <tspan class="i">σ</tspan></text>
</svg></body></html>
